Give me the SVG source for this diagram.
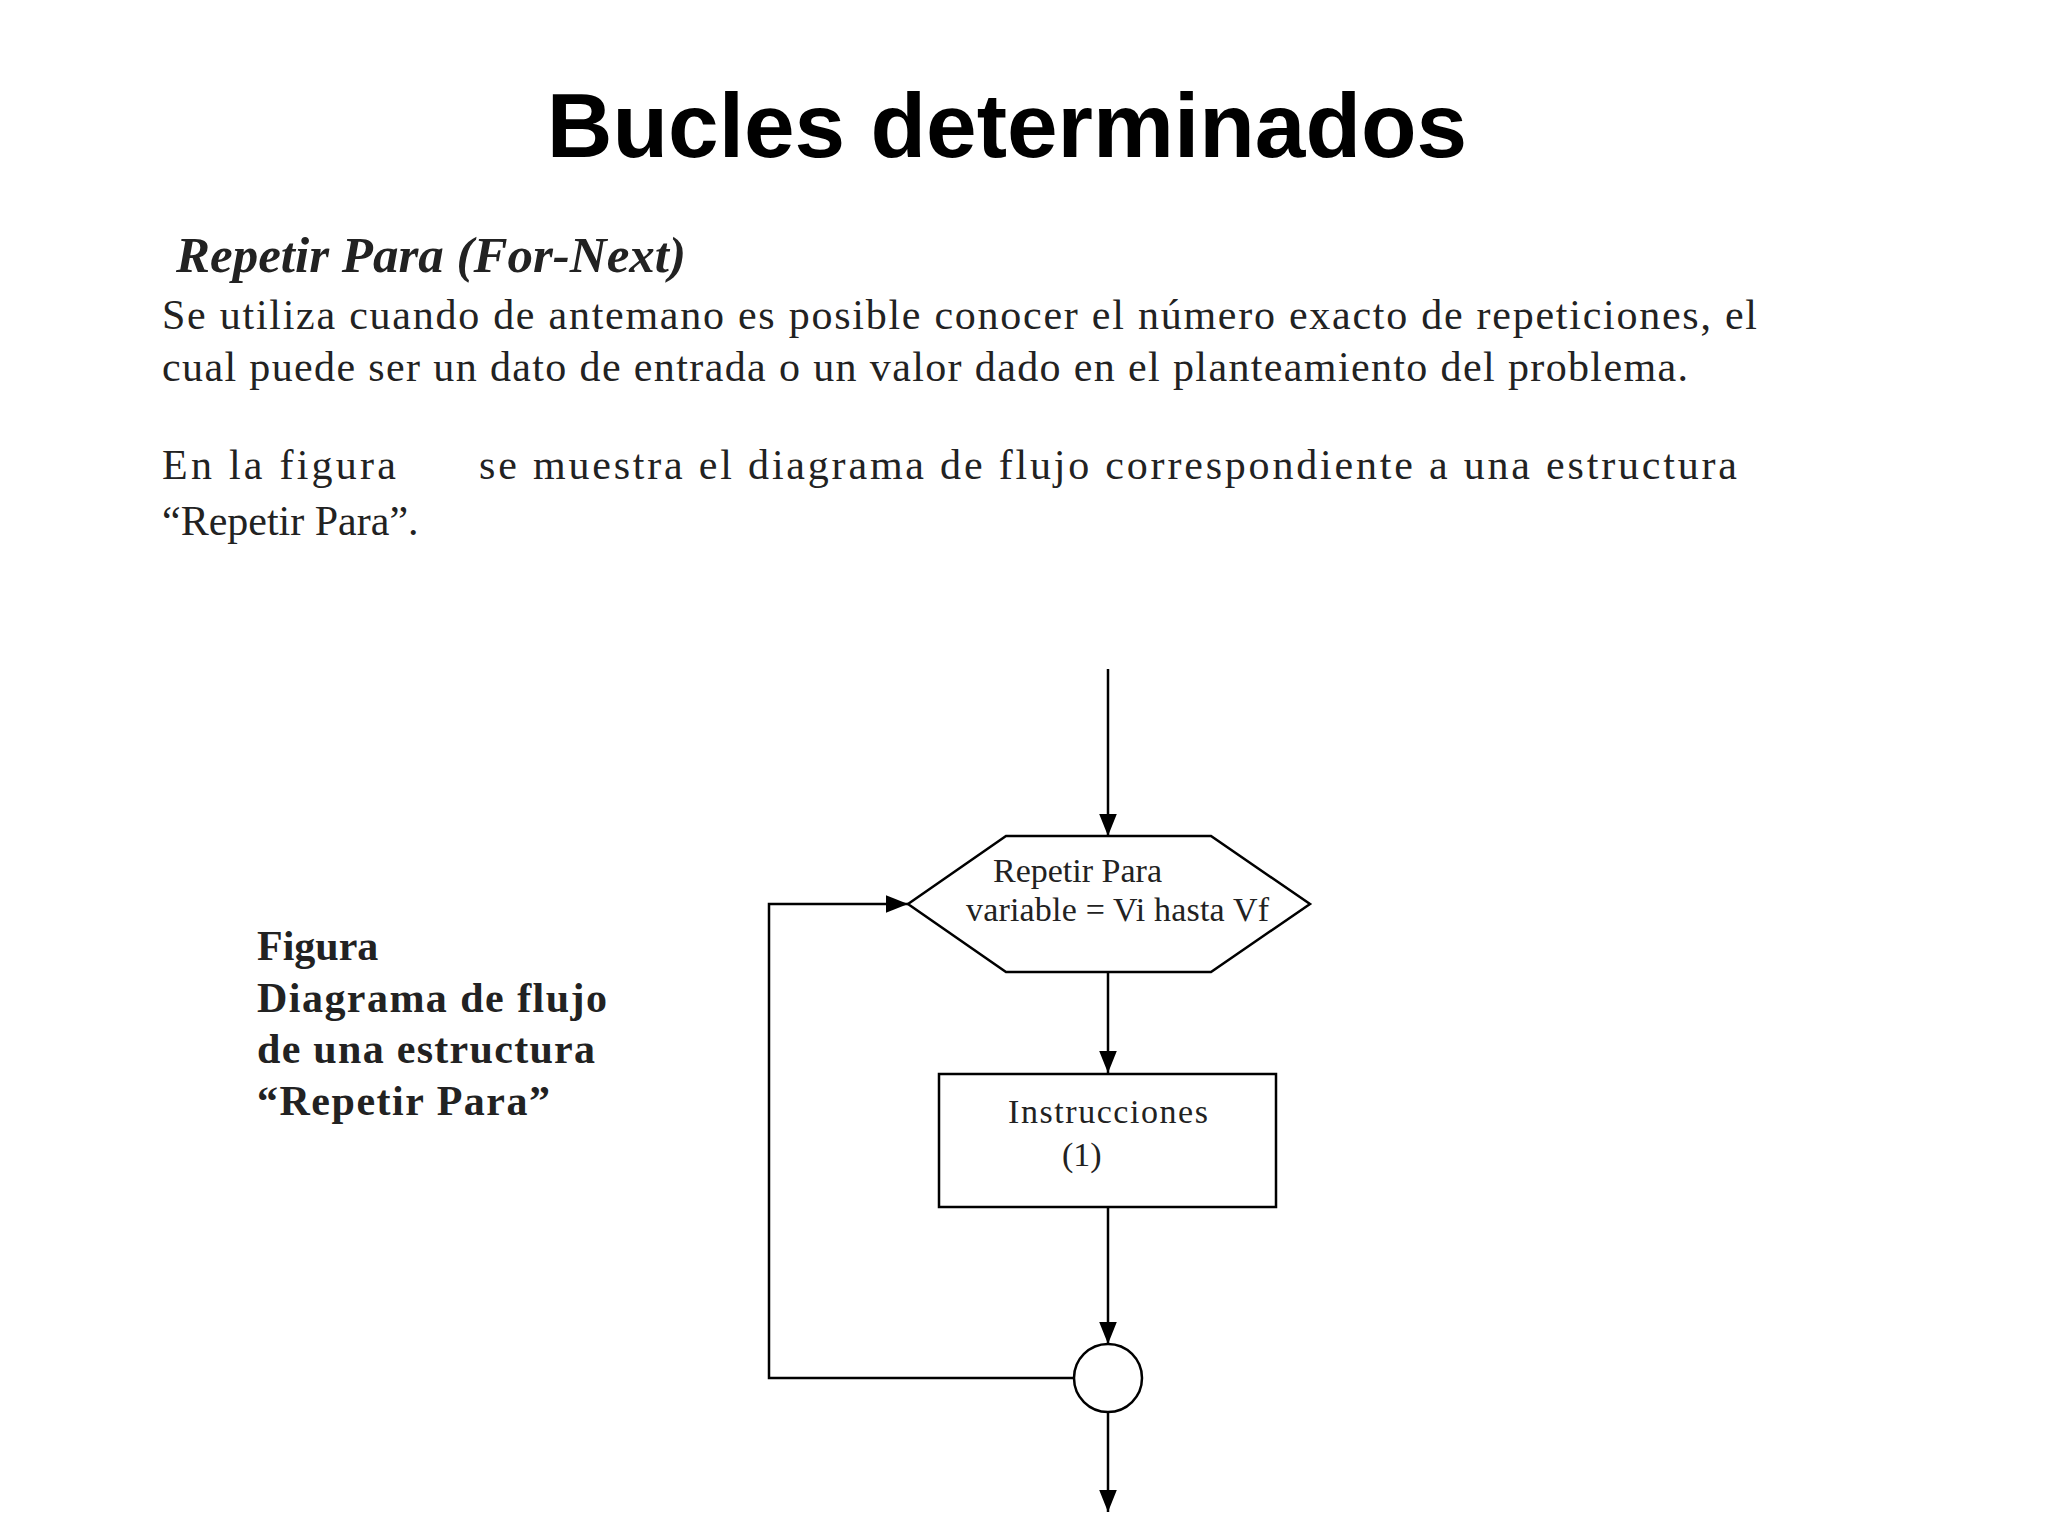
<svg xmlns="http://www.w3.org/2000/svg" width="2048" height="1536" viewBox="0 0 2048 1536">
<style>
.t{font-family:"Liberation Serif",serif;fill:#222}
.p{font-size:42px}
.n{font-size:34px}
.f{font-size:42px;font-weight:bold}
.c{stroke:#000;stroke-width:2.5;fill:none}
</style>
<defs><marker id="b" viewBox="0 0 10 10" refX="10" refY="5" markerWidth="22" markerHeight="22" markerUnits="userSpaceOnUse" orient="auto"><path d="M0,1L10,5L0,9z" fill="#000"/></marker></defs>
<rect width="2048" height="1536" fill="#fff"/>
<text x="1007" y="157" text-anchor="middle" font-family="Liberation Sans,sans-serif" font-weight="bold" font-size="91">Bucles determinados</text>
<text class="t" x="176" y="272" font-size="51" font-weight="bold" font-style="italic">Repetir Para (For-Next)</text>
<text class="t p" x="162" y="329" textLength="1595">Se utiliza cuando de antemano es posible conocer el número exacto de repeticiones, el</text>
<text class="t p" x="162" y="381" textLength="1526">cual  puede ser un dato de entrada o un valor dado en el planteamiento del problema.</text>
<text class="t p" x="162" y="479" textLength="234">En  la  figura</text>
<text class="t p" x="479" y="479" textLength="1258">se  muestra  el  diagrama  de  flujo  correspondiente  a  una  estructura</text>
<text class="t p" x="162" y="535">“Repetir Para”.</text>
<g id="caption"><text class="t f" x="257" y="960">Figura</text><text class="t f" x="257" y="1012" textLength="350">Diagrama de flujo</text><text class="t f" x="257" y="1063" textLength="338">de una estructura</text><text class="t f" x="257" y="1115" textLength="293">“Repetir Para”</text></g>
<g id="n1"><polygon class="c" points="908,904 1006,836 1211,836 1310,904 1211,972 1006,972"/><text class="t n" x="993" y="882">Repetir  Para</text><text class="t n" x="966" y="921" textLength="303">variable = Vi hasta Vf</text></g>
<g id="n2"><rect class="c" x="939" y="1074" width="337" height="133"/><text class="t n" x="1008" y="1123" textLength="200">Instrucciones</text><text class="t n" x="1062" y="1166">(1)</text></g>
<g id="n3"><circle class="c" cx="1108" cy="1378" r="34"/></g>
<g id="connectors" class="c">
<path d="M1108,669V836" marker-end="url(#b)"/>
<path d="M1108,972V1073" marker-end="url(#b)"/>
<path d="M1108,1207V1344" marker-end="url(#b)"/>
<path d="M1108,1412V1512" marker-end="url(#b)"/>
<path d="M1074,1378H769V904H908" marker-end="url(#b)"/>
</g>
</svg>
